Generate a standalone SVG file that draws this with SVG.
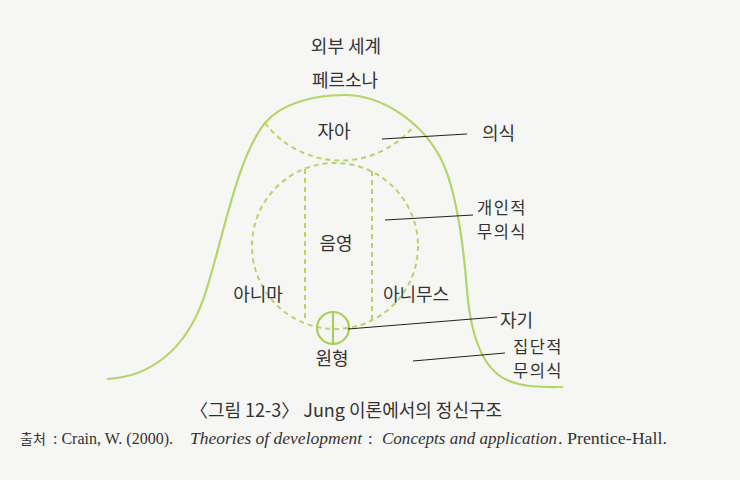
<svg xmlns="http://www.w3.org/2000/svg" width="740" height="480" viewBox="0 0 740 480">
<defs>
<style>
.bell{fill:none;stroke:#b5d46a;stroke-width:2.2}
.dash{fill:none;stroke:#b5d46a;stroke-width:2;stroke-dasharray:5 4}
.solid{fill:none;stroke:#a8cf5a;stroke-width:2.2}
.lead{fill:none;stroke:#222;stroke-width:1.2}
.lbl{font-family:"Noto Sans CJK KR","Noto Sans",sans-serif;font-size:18px;fill:#333}
.lbl2{font-family:"Noto Sans CJK KR","Noto Sans",sans-serif;font-size:16.5px;letter-spacing:1.5px;fill:#333}
.cap{font-family:"Noto Sans CJK KR","Noto Sans",sans-serif;font-size:18px;fill:#333}
.src{font-family:"Liberation Serif","Noto Sans CJK KR",serif;font-size:16px;fill:#333}
.srck{font-family:"Noto Sans CJK KR",sans-serif;font-size:14px;fill:#333}
.it{font-style:italic}
</style>
</defs>
<rect width="740" height="480" fill="#f6f6f4"/>
<g id="psyche">
<path class="bell" d="M107,379 C150,377 185,350 203,300 C221,250 235,160 265,123 C280,105 310,95 345,95 C380,95 420,120 440,157 C455,185 463,240 467,290 C471,340 485,370 507,380 C525,388 545,387 563,387"/>
</g>
<g id="ego">
<path class="dash" d="M265,123 A95,95 0 0 0 413,127"/>
<text class="lbl" x="334" y="138" text-anchor="middle">자아</text>
</g>
<g id="personal-unconscious">
<circle class="dash" cx="335" cy="246" r="83"/>
<line class="dash" x1="305" y1="169" x2="305" y2="320"/>
<line class="dash" x1="372" y1="171" x2="372" y2="320"/>
<text class="lbl" x="336" y="250" text-anchor="middle">음영</text>
<text class="lbl" x="258" y="301" text-anchor="middle">아니마</text>
<text class="lbl" x="416" y="301" text-anchor="middle">아니무스</text>
</g>
<g id="self">
<circle class="solid" cx="333" cy="328" r="16"/>
<line class="solid" x1="333" y1="312" x2="333" y2="344"/>
<text class="lbl" x="332" y="365" text-anchor="middle">원형</text>
</g>
<g id="outer-world">
<text class="lbl" x="346" y="53" text-anchor="middle">외부 세계</text>
<text class="lbl" x="345" y="87" text-anchor="middle">페르소나</text>
</g>
<g id="connectors">
<line class="lead" x1="382" y1="139" x2="467" y2="134"/>
<line class="lead" x1="385" y1="220" x2="473" y2="215"/>
<line class="lead" x1="348" y1="329" x2="497" y2="317"/>
<line class="lead" x1="413" y1="361" x2="505" y2="353"/>
</g>
<g id="labels">
<text class="lbl" x="482" y="140">의식</text>
<text class="lbl2" x="477" y="214">개인적<tspan x="477" dy="24">무의식</tspan></text>
<text class="lbl" x="500" y="327">자기</text>
<text class="lbl2" x="513" y="353">집단적<tspan x="513" dy="24">무의식</tspan></text>
</g>
<g id="caption">
<text class="cap" x="346" y="417" text-anchor="middle">〈그림 12-3〉 Jung 이론에서의 정신구조</text>
<text class="srck" x="20" y="444">출처</text>
<text class="src" x="53" y="444" textLength="120" lengthAdjust="spacingAndGlyphs">: Crain, W. (2000).</text>
<text class="src it" x="190" y="444" textLength="172" lengthAdjust="spacingAndGlyphs">Theories of development</text>
<text class="src" x="368" y="444">:</text>
<text class="src it" x="382" y="444" textLength="175" lengthAdjust="spacingAndGlyphs">Concepts and application</text>
<text class="src" x="558" y="444" textLength="109" lengthAdjust="spacingAndGlyphs">. Prentice-Hall.</text>
</g>
</svg>
